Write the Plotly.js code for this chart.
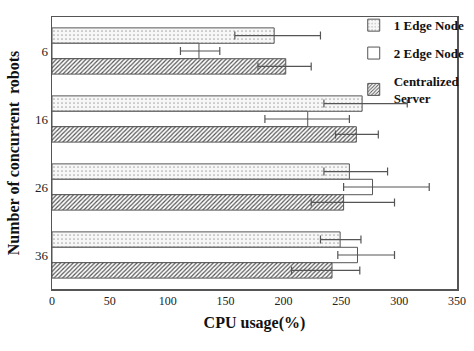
<!DOCTYPE html>
<html><head><meta charset="utf-8">
<script src="https://cdn.plot.ly/plotly-3.0.1.min.js"></script>
<style>html,body{margin:0;padding:0;background:#fff;}#chart{width:474px;height:351px;}</style>
</head><body><div id="chart"></div>
<script>
const robots = ['6', '16', '26', '36'];
const seriesNames = ['1 Edge Node', '2 Edge Node', 'Centralized<br>Server'];
const edge1 = [192, 268, 257, 249];
const edge1Minus = [34, 33, 22, 17];
const edge1Plus = [40, 39, 33, 18];
const edge2 = [127, 221, 277, 264];
const edge2Minus = [16, 37, 25, 17];
const edge2Plus = [18, 36, 49, 32];
const central = [202, 263, 252, 242];
const centralMinus = [24, 18, 28, 35];
const centralPlus = [22, 19, 44, 24];

const serif = 'Liberation Serif, Times New Roman, serif';
function err(plus, minus) {
  return {type: 'data', symmetric: false, array: plus, arrayminus: minus,
          color: '#555', thickness: 1.2, width: 4};
}
const traces = [
  {type: 'bar', orientation: 'h', name: seriesNames[0], legendgroup: 'a', y: robots, x: edge1,
   error_x: err(edge1Plus, edge1Minus),
   marker: {color: '#f4f4f4', line: {color: '#555', width: 1},
            pattern: {shape: '.', size: 4, solidity: 0.15, fgcolor: '#aaa', bgcolor: '#f7f7f7'}}},
  {type: 'bar', orientation: 'h', name: seriesNames[1], legendgroup: 'b', y: robots, x: edge2,
   error_x: err(edge2Plus, edge2Minus),
   marker: {color: '#ffffff', line: {color: '#555', width: 1}}},
  {type: 'bar', orientation: 'h', name: seriesNames[2], legendgroup: 'c', y: robots, x: central,
   error_x: err(centralPlus, centralMinus),
   marker: {color: '#ffffff', line: {color: '#555', width: 1},
            pattern: {shape: '/', size: 3, solidity: 0.4, fgcolor: '#555', bgcolor: '#ffffff'}}}
];
const layout = {
  width: 474, height: 351,
  margin: {l: 52, r: 17, t: 17, b: 62, autoexpand: false},
  paper_bgcolor: '#fff', plot_bgcolor: '#fff',
  barmode: 'group', bargap: 0.32, bargroupgap: 0,
  font: {family: serif, color: '#222', size: 12},
  xaxis: {range: [0, 350], dtick: 50, showgrid: false, zeroline: false,
          showline: true, mirror: true, linecolor: '#555', linewidth: 1.5,
          ticks: '', ticklen: 0, tickfont: {family: serif, size: 12, color: '#222'},
          title: {text: '<b>CPU usage(%)</b>', font: {family: serif, size: 16, color: '#111'}, standoff: 10}},
  yaxis: {type: 'category', autorange: 'reversed', showgrid: false, zeroline: false,
          showline: true, mirror: true, linecolor: '#555', linewidth: 1.5,
          ticks: '', tickfont: {family: serif, size: 13, color: '#222'},
          title: {text: '<b>Number of concurrent  robots</b>', font: {family: serif, size: 16, color: '#111'}, standoff: 11}},
  showlegend: true,
  legend: {x: 0.745, y: 1.025, xanchor: 'left', yanchor: 'top', bgcolor: 'rgba(255,255,255,0)',
           font: {family: serif, size: 13, color: '#111', weight: 'bold'},
           itemwidth: 30, tracegroupgap: 8, traceorder: 'grouped'}
};
Plotly.newPlot('chart', traces, layout, {displayModeBar: false, staticPlot: true});
</script></body></html>
